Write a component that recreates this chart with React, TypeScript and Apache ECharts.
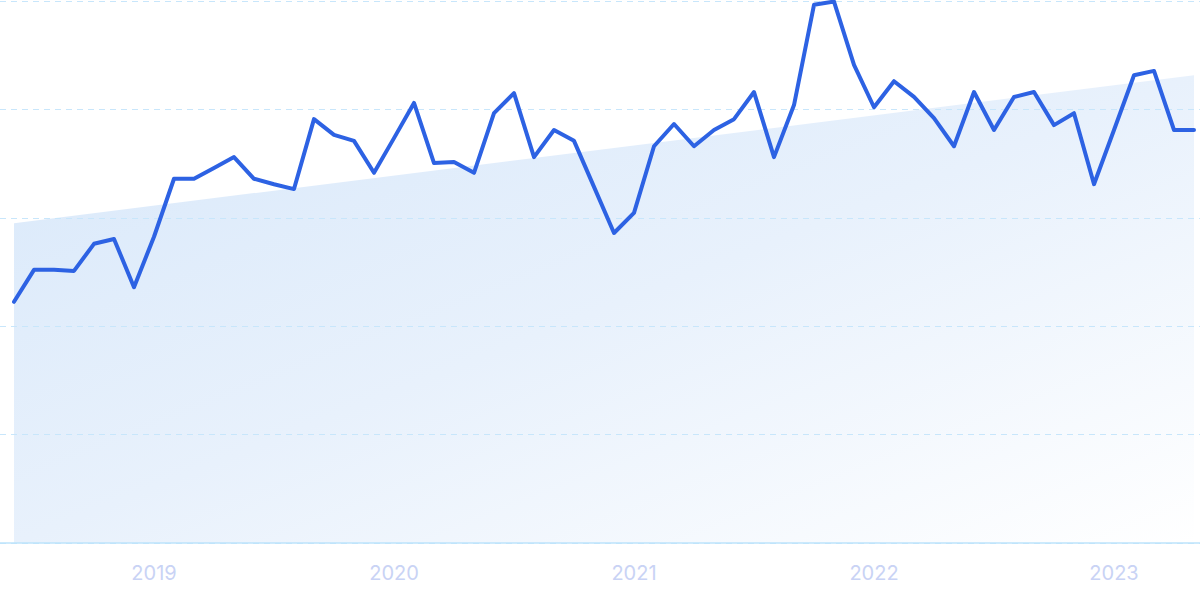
import { useEffect, useRef } from 'react'
import * as echarts from 'echarts'

// monthly categories, Jun 2018 .. May 2023
const MONTHS = [
  '2018-06', '2018-07', '2018-08', '2018-09', '2018-10', '2018-11', '2018-12',
  '2019-01', '2019-02', '2019-03', '2019-04', '2019-05', '2019-06', '2019-07', '2019-08', '2019-09', '2019-10', '2019-11', '2019-12',
  '2020-01', '2020-02', '2020-03', '2020-04', '2020-05', '2020-06', '2020-07', '2020-08', '2020-09', '2020-10', '2020-11', '2020-12',
  '2021-01', '2021-02', '2021-03', '2021-04', '2021-05', '2021-06', '2021-07', '2021-08', '2021-09', '2021-10', '2021-11', '2021-12',
  '2022-01', '2022-02', '2022-03', '2022-04', '2022-05', '2022-06', '2022-07', '2022-08', '2022-09', '2022-10', '2022-11', '2022-12',
  '2023-01', '2023-02', '2023-03', '2023-04', '2023-05',
]

const INTEREST = [
  44.5, 50.4, 50.4, 50.2, 55.2, 56.1, 47.2,
  56.5, 67.2, 67.2, 69.2, 71.2, 67.2, 66.2, 65.3, 78.2, 75.3, 74.2, 68.3,
  74.7, 81.2, 70.1, 70.3, 68.3, 79.3, 83.0, 71.2, 76.2, 74.2, 65.7, 57.2,
  60.9, 73.2, 77.3, 73.2, 76.2, 78.2, 83.2, 71.2, 80.8, 99.3, 99.9, 88.2,
  80.4, 85.2, 82.3, 78.4, 73.2, 83.2, 76.2, 82.3, 83.2, 77.1, 79.3, 66.2,
  76.2, 86.3, 87.1, 76.2, 76.2,
]

// linear trend: value at first and last month
const TREND_START = 59.0
const TREND_END = 86.3

const Y_MIN = 0
const Y_MAX = 100
const Y_STEP = 20

export default function App() {
  const ref = useRef<HTMLDivElement>(null)

  useEffect(() => {
    if (!ref.current) {
      return
    }
    document.body.style.margin = '0'
    const chart = echarts.init(ref.current, null, { renderer: 'svg' })
    const last = MONTHS.length - 1
    const januaries = MONTHS.map((m, i) => (m.endsWith('-01') ? i : -1)).filter((i) => i >= 0)

    chart.setOption({
      animation: false,
      grid: { left: 0, right: 0, top: 1, bottom: 57 },
      xAxis: {
        type: 'value',
        min: -0.7,
        max: last + 0.3,
        z: 1,
        splitLine: { show: false },
        axisTick: { show: false },
        axisLine: { show: true, lineStyle: { color: '#bde3fb', width: 1.5 } },
        axisLabel: {
          customValues: januaries,
          formatter: (v: number) => MONTHS[Math.round(v)].slice(0, 4),
          color: '#c9d3f5',
          fontFamily: 'Inter',
          fontSize: 20,
          margin: 20,
        },
      },
      yAxis: {
        type: 'value',
        min: Y_MIN,
        max: Y_MAX,
        interval: Y_STEP,
        z: 1,
        axisLine: { show: false },
        axisTick: { show: false },
        axisLabel: { show: false },
        splitLine: { lineStyle: { color: '#c8e6fb', type: [6, 5], width: 1 } },
      },
      series: [
        {
          type: 'line',
          z: 0,
          silent: true,
          showSymbol: false,
          lineStyle: { width: 0 },
          data: [[0, TREND_START], [last, TREND_END]],
          areaStyle: {
            opacity: 1,
            color: new echarts.graphic.LinearGradient(0, 0, 1, 1, [
              { offset: 0, color: '#d8e8fa' },
              { offset: 0.5, color: '#e8f1fc' },
              { offset: 1, color: '#ffffff' },
            ]),
          },
        },
        {
          type: 'line',
          z: 2,
          showSymbol: false,
          lineStyle: { color: '#2d62e3', width: 4, join: 'round', cap: 'round' },
          data: INTEREST.map((v, i) => [i, v]),
        },
      ],
    })

    return () => {
      chart.dispose()
    }
  }, [])

  return <div ref={ref} style={{ width: 1200, height: 600 }} />
}
